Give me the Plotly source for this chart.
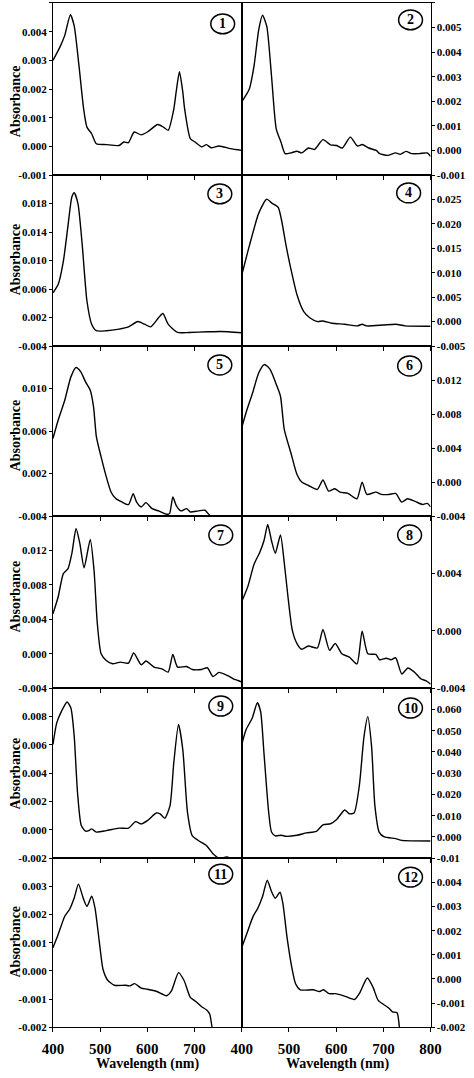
import plotly.graph_objects as go

# ---------------- data ----------------
wl1 = [400,415,425,437,445,455,465,472,482,492,513,540,550,560,572,587,600,622,634,644,656,661,668,675,679,691,701,715,725,735,752,776,800]
ab1 = [0.0030,0.00347,0.00387,0.00459,0.0042,0.00283,0.00131,0.00067,0.00044,0.00009,0.00006,0.00003,0.00015,0.00013,0.0005,0.0004,0.0005,0.00076,0.00067,0.00056,0.0013,0.0019,0.0026,0.0019,0.0013,0.00027,0.00015,-0.00002,0.00006,-0.00005,0.00001,-0.00008,-0.00014]

wl2 = [400,416,426,436,444,453,463,473,483,492,504,517,527,541,554,572,588,601,613,630,645,655,669,685,692,709,726,736,748,760,776,793,800]
ab2 = [0.00198,0.0025,0.00344,0.00492,0.0055,0.00505,0.00303,0.00088,0.00034,-0.00013,-0.0001,-0.00003,-0.0001,0.0001,0.00004,0.00044,0.00023,0.0002,0.0001,0.00054,0.00018,0.00024,0.0001,0.0,-0.00013,-0.0002,-0.0001,-0.00016,-0.00004,-0.00013,-0.00013,-0.0001,-0.00024]

wl3 = [400,411,422,432,440,445,453,462,472,482,492,513,540,560,580,594,607,624,633,644,664,688,728,755,800]
ab3 = [0.00548,0.00663,0.00988,0.01498,0.01892,0.01952,0.0180,0.0122,0.00432,0.00107,0.00015,0.00015,0.00038,0.0007,0.00144,0.00107,0.0007,0.002,0.00256,0.00107,-0.00009,-0.00009,0.0,0.00005,-0.00013]

wl4 = [400,416,436,453,463,477,484,494,504,517,531,544,561,571,591,618,645,655,665,699,726,746,800]
ab4 = [0.0095,0.0155,0.0222,0.02507,0.0243,0.0234,0.0209,0.0155,0.0108,0.0055,0.0021,0.0008,0.0,0.00013,-0.00033,-0.00053,-0.00087,-0.00053,-0.00087,-0.0007,-0.00053,-0.00087,-0.00094]

wl5 = [400,411,425,438,449,459,469,479,486,492,502,513,523,533,546,560,570,577,587,597,610,624,641,647,654,661,671,683,691,708,722,732,742,752,760,800]
ab5 = [0.0053,0.00702,0.0089,0.0111,0.01198,0.01157,0.01063,0.00984,0.00827,0.00545,0.00357,0.00169,0.00027,-0.00035,-0.00067,-0.00092,0.00012,-0.00067,-0.00114,-0.00073,-0.0013,-0.00151,-0.00183,-0.00176,-0.0002,-0.00098,-0.00151,-0.0013,-0.00161,-0.00151,-0.00145,-0.00192,-0.0022,-0.00198,-0.0025,-0.0035]

wl6 = [400,409,423,436,448,460,473,482,490,504,517,527,541,560,572,584,597,608,625,644,655,665,684,696,712,726,739,751,766,783,793,800]
ab6 = [0.0064,0.00816,0.0105,0.01286,0.01384,0.01325,0.0115,0.0101,0.0062,0.00345,0.0009,0.0,-0.0004,-0.00086,0.00024,-0.00106,-0.00078,-0.00118,-0.00133,-0.00196,0.0,-0.00145,-0.00118,-0.00145,-0.00145,-0.00133,-0.00235,-0.00196,-0.00224,-0.00263,-0.00251,-0.0029]

wl7 = [400,411,422,432,440,449,457,466,479,487,494,502,513,526,543,560,571,587,597,614,631,644,654,664,683,695,715,727,739,752,769,782,792,800]
ab7 = [0.00466,0.0066,0.00932,0.0099,0.01165,0.01456,0.0128,0.01,0.01328,0.0097,0.0035,0.0,-0.00078,-0.00117,-0.00097,-0.00109,0.00008,-0.00128,-0.00085,-0.00155,-0.00175,-0.00214,-0.00008,-0.00155,-0.00148,-0.00183,-0.00183,-0.00163,-0.00264,-0.00217,-0.00252,-0.00291,-0.00311,-0.0033]

wl8 = [400,413,426,438,447,455,463,471,482,490,497,507,517,527,541,560,572,586,598,612,628,644,655,667,684,692,706,716,726,739,752,766,780,790,800]
ab8 = [0.00205,0.0031,0.00464,0.00546,0.00628,0.00741,0.00628,0.00541,0.00668,0.00475,0.00264,0.00005,-0.00089,-0.00129,-0.00106,-0.0012,0.00009,-0.00136,-0.00089,-0.0016,-0.00184,-0.00231,-0.00002,-0.0016,-0.00165,-0.00202,-0.00191,-0.00202,-0.00188,-0.00301,-0.00259,-0.00289,-0.00336,-0.00348,-0.00372]

wl9 = [400,408,418,430,438,445,452,460,469,476,482,492,513,540,560,575,587,600,619,627,637,648,656,666,675,685,695,708,725,739,752,769,782,800]
ab9 = [0.00603,0.00755,0.00836,0.00902,0.0086,0.00661,0.00264,0.0003,-0.00009,-0.00005,0.00007,-0.00016,-0.00005,0.00012,0.00012,0.00058,0.00042,0.00065,0.00119,0.00112,0.00082,0.00171,0.00474,0.00743,0.00568,0.00124,-0.0004,-0.00075,-0.0011,-0.00168,-0.002,-0.00192,-0.00215,-0.0025]

wl10 = [400,409,422,433,440,447,457,463,471,484,494,517,537,558,572,588,601,618,628,638,649,659,667,675,682,691,702,726,739,800]
ab10 = [0.0434,0.0504,0.0558,0.0631,0.0589,0.0395,0.0116,0.0023,0.0005,0.0008,0.0003,0.0008,0.0019,0.0026,0.0057,0.0062,0.0082,0.0127,0.0109,0.0113,0.024,0.0473,0.0566,0.0426,0.0147,0.0023,0.0,-0.0008,-0.0016,-0.0019]

wl11 = [400,411,425,435,445,454,464,472,482,489,498,506,516,530,553,563,573,587,600,620,641,651,666,678,691,702,715,725,732,737,745,800]
ab11 = [0.00082,0.00129,0.00194,0.00218,0.00259,0.00308,0.00259,0.00229,0.00265,0.00224,0.00106,0.00006,-0.00033,-0.00051,-0.00051,-0.00053,-0.00045,-0.00061,-0.00065,-0.00073,-0.00088,-0.00071,-0.00006,-0.00035,-0.00094,-0.00108,-0.00127,-0.00138,-0.00153,-0.002,-0.0028,-0.006]

wl12 = [400,410,424,434,444,454,463,471,481,487,496,506,514,524,551,565,573,585,598,619,639,649,666,678,689,703,713,719,729,734,742,800]
ab12 = [0.0013,0.00184,0.00259,0.00293,0.00341,0.00409,0.00362,0.00334,0.00359,0.00314,0.00171,0.00048,-0.0002,-0.00045,-0.00045,-0.00052,-0.00045,-0.00061,-0.00061,-0.00072,-0.00085,-0.00061,0.00004,-0.00034,-0.00089,-0.00109,-0.00123,-0.00136,-0.0014,-0.002,-0.003,-0.006]

# y-axis ranges and tick labels per panel
y_ranges = [[-0.001,0.005],[-0.001,0.006],[-0.002,0.022],[-0.005,0.030],
            [-0.002,0.014],[-0.004,0.016],[-0.004,0.016],[-0.004,0.008],
            [-0.002,0.010],[-0.010,0.070],[-0.002,0.004],[-0.002,0.005]]
y_tickvals = [[-0.001,0,0.001,0.002,0.003,0.004,0.005],
              [-0.001,0,0.001,0.002,0.003,0.004,0.005,0.006],
              [-0.002,0.002,0.006,0.010,0.014,0.018],
              [-0.005,0,0.005,0.010,0.015,0.020,0.025],
              [-0.002,0.002,0.006,0.010],
              [-0.004,0,0.004,0.008,0.012],
              [-0.004,0,0.004,0.008,0.012],
              [-0.004,0,0.004],
              [-0.002,0,0.002,0.004,0.006,0.008],
              [-0.010,0,0.010,0.020,0.030,0.040,0.050,0.060],
              [-0.002,-0.001,0,0.001,0.002,0.003],
              [-0.002,-0.001,0,0.001,0.002,0.003,0.004]]
y_ticktext = [["-0.001","0.000","0.001","0.002","0.003","0.004","0.005"],
              ["-0.001","0.000","0.001","0.002","0.003","0.004","0.005","0.006"],
              ["-0.004","0.002","0.006","0.010","0.014","0.018"],
              ["-0.005","0.000","0.005","0.010","0.015","0.020","0.025"],
              ["-0.004","0.002","0.006","0.010"],
              ["-0.004","0.000","0.004","0.008","0.012"],
              ["-0.004","0.000","0.004","0.008","0.012"],
              ["-0.004","0.000","0.004"],
              ["-0.002","0.000","0.002","0.004","0.006","0.008"],
              ["-0.01","0.000","0.010","0.020","0.030","0.040","0.050","0.060"],
              ["-0.002","-0.001","0.000","0.001","0.002","0.003"],
              ["-0.002","-0.001","0.000","0.001","0.002","0.003","0.004"]]
x_tick_left = [400, 500, 600, 700]
x_tick_right = [400, 500, 600, 700, 800]
panel_labels = ["1","2","3","4","5","6","7","8","9","10","11","12"]

wls = [wl1,wl2,wl3,wl4,wl5,wl6,wl7,wl8,wl9,wl10,wl11,wl12]
abs_ = [ab1,ab2,ab3,ab4,ab5,ab6,ab7,ab8,ab9,ab10,ab11,ab12]
for a, b in zip(wls, abs_):
    assert len(a) == len(b)

# ---------------- layout geometry (pixels) ----------------
W, H = 474, 1078
def px(x): return x / W
def py(y): return 1 - y / H

col_px = [(44, 242), (242, 440)]
row_px = [(3, 176), (176, 348), (348, 519), (519, 692), (692, 863), (863, 1033)]
circle_px = [(222,24),(419,20),(219,195),(417,194),(219,367),(418,368),
             (220,538),(418,538),(220,710),(419,712),(220,879),(419,882)]
absorb_y_px = [102, 261, 438, 600, 778, 947]

FONT = "Liberation Serif"
fig = go.Figure()
layout = dict(width=W, height=H, margin=dict(l=0, r=0, t=0, b=0),
              paper_bgcolor="white", plot_bgcolor="white", showlegend=False)
shapes, annotations = [], []

for i in range(12):
    n = i + 1
    col = i % 2
    row = i // 2
    xs = "" if n == 1 else str(n)
    fig.add_trace(go.Scatter(x=wls[i], y=abs_[i], mode="lines",
                             line=dict(color="black", width=1.4, shape="spline", smoothing=0.6),
                             xaxis="x" + xs, yaxis="y" + xs, hoverinfo="skip"))
    x0, x1 = col_px[col]
    yt, yb = row_px[row]
    layout["xaxis" + xs] = dict(
        domain=[px(x0), px(x1)], anchor="y" + xs, range=[400, 800],
        tickmode="array", tickvals=x_tick_left if col == 0 else x_tick_right,
        ticks="outside", ticklen=4, tickwidth=1.3, tickcolor="black",
        showticklabels=(row == 5), ticklabelstandoff=4,
        tickfont=dict(family=FONT, size=15, color="black", weight="bold"),
        showline=True, mirror=True, linecolor="black", linewidth=1.1,
        showgrid=False, zeroline=False)
    layout["yaxis" + xs] = dict(
        domain=[py(yb), py(yt)], anchor="x" + xs, range=y_ranges[i],
        side="left" if col == 0 else "right",
        tickmode="array", tickvals=y_tickvals[i], ticktext=y_ticktext[i],
        ticks="outside", ticklen=3, tickwidth=1.3, tickcolor="black",
        tickfont=dict(family=FONT, size=11, color="black", weight="bold"),
        showline=True, mirror=True, linecolor="black", linewidth=1.1,
        showgrid=False, zeroline=False)
    cx, cy = circle_px[i]
    shapes.append(dict(type="circle", xref="paper", yref="paper",
                       x0=px(cx - 12.5), x1=px(cx + 12.5), y0=py(cy + 10), y1=py(cy - 10),
                       line=dict(color="black", width=1.5)))
    annotations.append(dict(text=panel_labels[i], xref="paper", yref="paper",
                            x=px(cx), y=py(cy), showarrow=False,
                            xanchor="center", yanchor="middle",
                            font=dict(family=FONT, size=14, color="black", weight="bold")))

for ycen in absorb_y_px:
    annotations.append(dict(text="Absorbance", xref="paper", yref="paper",
                            x=px(5), y=py(ycen), textangle=-90, showarrow=False,
                            xanchor="center", yanchor="middle",
                            font=dict(family=FONT, size=14, color="black", weight="bold")))
for xcen in [143, 342]:
    annotations.append(dict(text="Wavelength (nm)", xref="paper", yref="paper",
                            x=px(xcen), y=py(1070), showarrow=False,
                            xanchor="center", yanchor="middle",
                            font=dict(family=FONT, size=14, color="black", weight="bold")))

layout["shapes"] = shapes
layout["annotations"] = annotations
fig.update_layout(**layout)
fig.write_html("out.html")
